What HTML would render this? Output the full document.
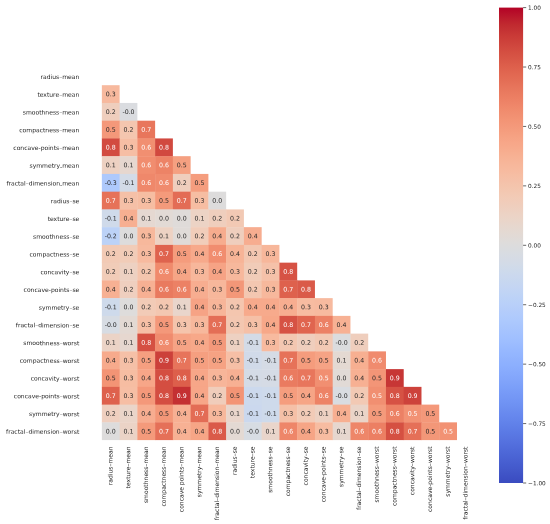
<!DOCTYPE html>
<html><head><meta charset="utf-8"><title>Correlation heatmap</title>
<style>html,body{margin:0;padding:0;background:#fff}svg{display:block}text{font-family:"DejaVu Sans","Liberation Sans",sans-serif;fill:#262626}.a{font-size:6.25px;text-anchor:middle}.w{fill:#fff}.y{font-size:6.04px;text-anchor:end}.x{font-size:6.04px;text-anchor:end}.c{font-size:5.75px}</style></head>
<body>
<svg width="550" height="524" viewBox="0 0 550 524">
<rect width="550" height="524" fill="#fff"/>
<defs><linearGradient id="cw" x1="0" y1="1" x2="0" y2="0"><stop offset="0.0020" stop-color="#3b4cc0"/><stop offset="0.0137" stop-color="#3e51c5"/><stop offset="0.0254" stop-color="#4257c9"/><stop offset="0.0371" stop-color="#455cce"/><stop offset="0.0488" stop-color="#4961d2"/><stop offset="0.0605" stop-color="#4c66d6"/><stop offset="0.0723" stop-color="#506bda"/><stop offset="0.0840" stop-color="#5470de"/><stop offset="0.0957" stop-color="#5875e1"/><stop offset="0.1074" stop-color="#5b7ae5"/><stop offset="0.1191" stop-color="#5f7fe8"/><stop offset="0.1309" stop-color="#6384eb"/><stop offset="0.1426" stop-color="#6788ee"/><stop offset="0.1543" stop-color="#6b8df0"/><stop offset="0.1660" stop-color="#6f92f3"/><stop offset="0.1777" stop-color="#7396f5"/><stop offset="0.1895" stop-color="#779af7"/><stop offset="0.2012" stop-color="#7b9ff9"/><stop offset="0.2129" stop-color="#80a3fa"/><stop offset="0.2246" stop-color="#84a7fc"/><stop offset="0.2363" stop-color="#88abfd"/><stop offset="0.2480" stop-color="#8caffe"/><stop offset="0.2598" stop-color="#90b2fe"/><stop offset="0.2715" stop-color="#94b6ff"/><stop offset="0.2832" stop-color="#98b9ff"/><stop offset="0.2949" stop-color="#9dbdff"/><stop offset="0.3066" stop-color="#a1c0ff"/><stop offset="0.3184" stop-color="#a5c3fe"/><stop offset="0.3301" stop-color="#a9c6fd"/><stop offset="0.3418" stop-color="#adc9fd"/><stop offset="0.3535" stop-color="#b1cbfc"/><stop offset="0.3652" stop-color="#b5cdfa"/><stop offset="0.3770" stop-color="#b9d0f9"/><stop offset="0.3887" stop-color="#bcd2f7"/><stop offset="0.4004" stop-color="#c0d4f5"/><stop offset="0.4121" stop-color="#c4d5f3"/><stop offset="0.4238" stop-color="#c7d7f0"/><stop offset="0.4355" stop-color="#cbd8ee"/><stop offset="0.4473" stop-color="#cedaeb"/><stop offset="0.4590" stop-color="#d2dbe8"/><stop offset="0.4707" stop-color="#d5dbe5"/><stop offset="0.4824" stop-color="#d8dce2"/><stop offset="0.4941" stop-color="#dbdcde"/><stop offset="0.5059" stop-color="#dedcdb"/><stop offset="0.5176" stop-color="#e1dad6"/><stop offset="0.5293" stop-color="#e4d9d2"/><stop offset="0.5410" stop-color="#e7d7ce"/><stop offset="0.5527" stop-color="#ead5c9"/><stop offset="0.5645" stop-color="#ecd3c5"/><stop offset="0.5762" stop-color="#eed0c0"/><stop offset="0.5879" stop-color="#f0cdbb"/><stop offset="0.5996" stop-color="#f2cbb7"/><stop offset="0.6113" stop-color="#f3c8b2"/><stop offset="0.6230" stop-color="#f4c5ad"/><stop offset="0.6348" stop-color="#f5c1a9"/><stop offset="0.6465" stop-color="#f6bea4"/><stop offset="0.6582" stop-color="#f7ba9f"/><stop offset="0.6699" stop-color="#f7b79b"/><stop offset="0.6816" stop-color="#f7b396"/><stop offset="0.6934" stop-color="#f7af91"/><stop offset="0.7051" stop-color="#f7aa8c"/><stop offset="0.7168" stop-color="#f7a688"/><stop offset="0.7285" stop-color="#f6a283"/><stop offset="0.7402" stop-color="#f59d7e"/><stop offset="0.7520" stop-color="#f4987a"/><stop offset="0.7637" stop-color="#f39475"/><stop offset="0.7754" stop-color="#f18f71"/><stop offset="0.7871" stop-color="#f08a6c"/><stop offset="0.7988" stop-color="#ee8468"/><stop offset="0.8105" stop-color="#ec7f63"/><stop offset="0.8223" stop-color="#e97a5f"/><stop offset="0.8340" stop-color="#e7745b"/><stop offset="0.8457" stop-color="#e46e56"/><stop offset="0.8574" stop-color="#e26952"/><stop offset="0.8691" stop-color="#df634e"/><stop offset="0.8809" stop-color="#dc5d4a"/><stop offset="0.8926" stop-color="#d85646"/><stop offset="0.9043" stop-color="#d55042"/><stop offset="0.9160" stop-color="#d1493f"/><stop offset="0.9277" stop-color="#cd423b"/><stop offset="0.9395" stop-color="#ca3b37"/><stop offset="0.9512" stop-color="#c53334"/><stop offset="0.9629" stop-color="#c12b30"/><stop offset="0.9746" stop-color="#bd1f2d"/><stop offset="0.9863" stop-color="#b8122a"/><stop offset="0.9980" stop-color="#b40426"/></linearGradient></defs>
<g>
<rect x="101.85" y="85.20" width="17.76" height="18.14" fill="#f7b99e"/>
<rect x="101.85" y="102.94" width="18.16" height="18.14" fill="#efcebd"/><rect x="119.61" y="102.94" width="17.76" height="18.14" fill="#dadce0"/>
<rect x="101.85" y="120.69" width="18.16" height="18.14" fill="#f4987a"/><rect x="119.61" y="120.69" width="18.16" height="18.14" fill="#f4c6af"/><rect x="137.36" y="120.69" width="17.76" height="18.14" fill="#e8765c"/>
<rect x="101.85" y="138.43" width="18.16" height="18.14" fill="#d24b40"/><rect x="119.61" y="138.43" width="18.16" height="18.14" fill="#f6bea4"/><rect x="137.36" y="138.43" width="18.16" height="18.14" fill="#f18f71"/><rect x="155.12" y="138.43" width="17.76" height="18.14" fill="#d1493f"/>
<rect x="101.85" y="156.18" width="18.16" height="18.14" fill="#edd1c2"/><rect x="119.61" y="156.18" width="18.16" height="18.14" fill="#e6d7cf"/><rect x="137.36" y="156.18" width="18.16" height="18.14" fill="#f18d6f"/><rect x="155.12" y="156.18" width="18.16" height="18.14" fill="#ed8366"/><rect x="172.88" y="156.18" width="17.76" height="18.14" fill="#f5a081"/>
<rect x="101.85" y="173.92" width="18.16" height="18.14" fill="#aec9fc"/><rect x="119.61" y="173.92" width="18.16" height="18.14" fill="#d3dbe7"/><rect x="137.36" y="173.92" width="18.16" height="18.14" fill="#ef886b"/><rect x="155.12" y="173.92" width="18.16" height="18.14" fill="#f08b6e"/><rect x="172.88" y="173.92" width="18.16" height="18.14" fill="#efcebd"/><rect x="190.63" y="173.92" width="17.76" height="18.14" fill="#f59d7e"/>
<rect x="101.85" y="191.67" width="18.16" height="18.14" fill="#e67259"/><rect x="119.61" y="191.67" width="18.16" height="18.14" fill="#f5c0a7"/><rect x="137.36" y="191.67" width="18.16" height="18.14" fill="#f6bda2"/><rect x="155.12" y="191.67" width="18.16" height="18.14" fill="#f49a7b"/><rect x="172.88" y="191.67" width="18.16" height="18.14" fill="#e36c55"/><rect x="190.63" y="191.67" width="18.16" height="18.14" fill="#f6bda2"/><rect x="208.39" y="191.67" width="17.76" height="18.14" fill="#dddcdc"/>
<rect x="101.85" y="209.41" width="18.16" height="18.14" fill="#cfdaea"/><rect x="119.61" y="209.41" width="18.16" height="18.14" fill="#f7af91"/><rect x="137.36" y="209.41" width="18.16" height="18.14" fill="#e5d8d1"/><rect x="155.12" y="209.41" width="18.16" height="18.14" fill="#e2dad5"/><rect x="172.88" y="209.41" width="18.16" height="18.14" fill="#dfdbd9"/><rect x="190.63" y="209.41" width="18.16" height="18.14" fill="#ecd3c5"/><rect x="208.39" y="209.41" width="18.16" height="18.14" fill="#efcebd"/><rect x="226.15" y="209.41" width="17.76" height="18.14" fill="#f2c9b4"/>
<rect x="101.85" y="227.16" width="18.16" height="18.14" fill="#bcd2f7"/><rect x="119.61" y="227.16" width="18.16" height="18.14" fill="#dddcdc"/><rect x="137.36" y="227.16" width="18.16" height="18.14" fill="#f7b89c"/><rect x="155.12" y="227.16" width="18.16" height="18.14" fill="#edd2c3"/><rect x="172.88" y="227.16" width="18.16" height="18.14" fill="#e0dbd8"/><rect x="190.63" y="227.16" width="18.16" height="18.14" fill="#f1cdba"/><rect x="208.39" y="227.16" width="18.16" height="18.14" fill="#f7ac8e"/><rect x="226.15" y="227.16" width="18.16" height="18.14" fill="#efcebd"/><rect x="243.91" y="227.16" width="17.76" height="18.14" fill="#f7ad90"/>
<rect x="101.85" y="244.90" width="18.16" height="18.14" fill="#f2cab5"/><rect x="119.61" y="244.90" width="18.16" height="18.14" fill="#f1ccb8"/><rect x="137.36" y="244.90" width="18.16" height="18.14" fill="#f7ba9f"/><rect x="155.12" y="244.90" width="18.16" height="18.14" fill="#df634e"/><rect x="172.88" y="244.90" width="18.16" height="18.14" fill="#f59c7d"/><rect x="190.63" y="244.90" width="18.16" height="18.14" fill="#f7a98b"/><rect x="208.39" y="244.90" width="18.16" height="18.14" fill="#f18d6f"/><rect x="226.15" y="244.90" width="18.16" height="18.14" fill="#f7b497"/><rect x="243.91" y="244.90" width="18.16" height="18.14" fill="#f3c7b1"/><rect x="261.66" y="244.90" width="17.76" height="18.14" fill="#f7b79b"/>
<rect x="101.85" y="262.65" width="18.16" height="18.14" fill="#f1ccb8"/><rect x="119.61" y="262.65" width="18.16" height="18.14" fill="#edd1c2"/><rect x="137.36" y="262.65" width="18.16" height="18.14" fill="#f4c5ad"/><rect x="155.12" y="262.65" width="18.16" height="18.14" fill="#f08a6c"/><rect x="172.88" y="262.65" width="18.16" height="18.14" fill="#f6a586"/><rect x="190.63" y="262.65" width="18.16" height="18.14" fill="#f7b79b"/><rect x="208.39" y="262.65" width="18.16" height="18.14" fill="#f6a385"/><rect x="226.15" y="262.65" width="18.16" height="18.14" fill="#f7b89c"/><rect x="243.91" y="262.65" width="18.16" height="18.14" fill="#f1ccb8"/><rect x="261.66" y="262.65" width="18.16" height="18.14" fill="#f5c1a9"/><rect x="279.42" y="262.65" width="17.76" height="18.14" fill="#d65244"/>
<rect x="101.85" y="280.39" width="18.16" height="18.14" fill="#f7b093"/><rect x="119.61" y="280.39" width="18.16" height="18.14" fill="#efcfbf"/><rect x="137.36" y="280.39" width="18.16" height="18.14" fill="#f7b093"/><rect x="155.12" y="280.39" width="18.16" height="18.14" fill="#e97a5f"/><rect x="172.88" y="280.39" width="18.16" height="18.14" fill="#ec8165"/><rect x="190.63" y="280.39" width="18.16" height="18.14" fill="#f7ad90"/><rect x="208.39" y="280.39" width="18.16" height="18.14" fill="#f7b79b"/><rect x="226.15" y="280.39" width="18.16" height="18.14" fill="#f39778"/><rect x="243.91" y="280.39" width="18.16" height="18.14" fill="#f3c7b1"/><rect x="261.66" y="280.39" width="18.16" height="18.14" fill="#f7b89c"/><rect x="279.42" y="280.39" width="18.16" height="18.14" fill="#de614d"/><rect x="297.18" y="280.39" width="17.76" height="18.14" fill="#da5a49"/>
<rect x="101.85" y="298.13" width="18.16" height="18.14" fill="#cedaeb"/><rect x="119.61" y="298.13" width="18.16" height="18.14" fill="#dedcdb"/><rect x="137.36" y="298.13" width="18.16" height="18.14" fill="#f2cbb7"/><rect x="155.12" y="298.13" width="18.16" height="18.14" fill="#f3c7b1"/><rect x="172.88" y="298.13" width="18.16" height="18.14" fill="#e9d5cb"/><rect x="190.63" y="298.13" width="18.16" height="18.14" fill="#f6a385"/><rect x="208.39" y="298.13" width="18.16" height="18.14" fill="#f7b599"/><rect x="226.15" y="298.13" width="18.16" height="18.14" fill="#f4c6af"/><rect x="243.91" y="298.13" width="18.16" height="18.14" fill="#f7aa8c"/><rect x="261.66" y="298.13" width="18.16" height="18.14" fill="#f7aa8c"/><rect x="279.42" y="298.13" width="18.16" height="18.14" fill="#f7ad90"/><rect x="297.18" y="298.13" width="18.16" height="18.14" fill="#f7bca1"/><rect x="314.93" y="298.13" width="17.76" height="18.14" fill="#f7ba9f"/>
<rect x="101.85" y="315.88" width="18.16" height="18.14" fill="#d7dce3"/><rect x="119.61" y="315.88" width="18.16" height="18.14" fill="#e3d9d3"/><rect x="137.36" y="315.88" width="18.16" height="18.14" fill="#f6bfa6"/><rect x="155.12" y="315.88" width="18.16" height="18.14" fill="#f4987a"/><rect x="172.88" y="315.88" width="18.16" height="18.14" fill="#f5c4ac"/><rect x="190.63" y="315.88" width="18.16" height="18.14" fill="#f7b89c"/><rect x="208.39" y="315.88" width="18.16" height="18.14" fill="#e46e56"/><rect x="226.15" y="315.88" width="18.16" height="18.14" fill="#f3c7b1"/><rect x="243.91" y="315.88" width="18.16" height="18.14" fill="#f5c0a7"/><rect x="261.66" y="315.88" width="18.16" height="18.14" fill="#f7a889"/><rect x="279.42" y="315.88" width="18.16" height="18.14" fill="#d65244"/><rect x="297.18" y="315.88" width="18.16" height="18.14" fill="#e0654f"/><rect x="314.93" y="315.88" width="18.16" height="18.14" fill="#ec8165"/><rect x="332.69" y="315.88" width="17.76" height="18.14" fill="#f7b194"/>
<rect x="101.85" y="333.62" width="18.16" height="18.14" fill="#ebd3c6"/><rect x="119.61" y="333.62" width="18.16" height="18.14" fill="#e6d7cf"/><rect x="137.36" y="333.62" width="18.16" height="18.14" fill="#d55042"/><rect x="155.12" y="333.62" width="18.16" height="18.14" fill="#f08b6e"/><rect x="172.88" y="333.62" width="18.16" height="18.14" fill="#f6a385"/><rect x="190.63" y="333.62" width="18.16" height="18.14" fill="#f7a889"/><rect x="208.39" y="333.62" width="18.16" height="18.14" fill="#f4987a"/><rect x="226.15" y="333.62" width="18.16" height="18.14" fill="#edd1c2"/><rect x="243.91" y="333.62" width="18.16" height="18.14" fill="#d3dbe7"/><rect x="261.66" y="333.62" width="18.16" height="18.14" fill="#f7ba9f"/><rect x="279.42" y="333.62" width="18.16" height="18.14" fill="#f3c7b1"/><rect x="297.18" y="333.62" width="18.16" height="18.14" fill="#efcebd"/><rect x="314.93" y="333.62" width="18.16" height="18.14" fill="#f2c9b4"/><rect x="332.69" y="333.62" width="18.16" height="18.14" fill="#dbdcde"/><rect x="350.45" y="333.62" width="17.76" height="18.14" fill="#efcebd"/>
<rect x="101.85" y="351.37" width="18.16" height="18.14" fill="#f7aa8c"/><rect x="119.61" y="351.37" width="18.16" height="18.14" fill="#f5c0a7"/><rect x="137.36" y="351.37" width="18.16" height="18.14" fill="#f59f80"/><rect x="155.12" y="351.37" width="18.16" height="18.14" fill="#cc403a"/><rect x="172.88" y="351.37" width="18.16" height="18.14" fill="#e7745b"/><rect x="190.63" y="351.37" width="18.16" height="18.14" fill="#f59f80"/><rect x="208.39" y="351.37" width="18.16" height="18.14" fill="#f6a283"/><rect x="226.15" y="351.37" width="18.16" height="18.14" fill="#f6bfa6"/><rect x="243.91" y="351.37" width="18.16" height="18.14" fill="#d1dae9"/><rect x="261.66" y="351.37" width="18.16" height="18.14" fill="#d5dbe5"/><rect x="279.42" y="351.37" width="18.16" height="18.14" fill="#e67259"/><rect x="297.18" y="351.37" width="18.16" height="18.14" fill="#f59c7d"/><rect x="314.93" y="351.37" width="18.16" height="18.14" fill="#f6a385"/><rect x="332.69" y="351.37" width="18.16" height="18.14" fill="#e4d9d2"/><rect x="350.45" y="351.37" width="18.16" height="18.14" fill="#f7af91"/><rect x="368.21" y="351.37" width="17.76" height="18.14" fill="#f08b6e"/>
<rect x="101.85" y="369.12" width="18.16" height="18.14" fill="#f39475"/><rect x="119.61" y="369.12" width="18.16" height="18.14" fill="#f6bda2"/><rect x="137.36" y="369.12" width="18.16" height="18.14" fill="#f7a688"/><rect x="155.12" y="369.12" width="18.16" height="18.14" fill="#d44e41"/><rect x="172.88" y="369.12" width="18.16" height="18.14" fill="#dd5f4b"/><rect x="190.63" y="369.12" width="18.16" height="18.14" fill="#f7a688"/><rect x="208.39" y="369.12" width="18.16" height="18.14" fill="#f7b599"/><rect x="226.15" y="369.12" width="18.16" height="18.14" fill="#f7b093"/><rect x="243.91" y="369.12" width="18.16" height="18.14" fill="#d4dbe6"/><rect x="261.66" y="369.12" width="18.16" height="18.14" fill="#d5dbe5"/><rect x="279.42" y="369.12" width="18.16" height="18.14" fill="#ea7b60"/><rect x="297.18" y="369.12" width="18.16" height="18.14" fill="#e8765c"/><rect x="314.93" y="369.12" width="18.16" height="18.14" fill="#f18f71"/><rect x="332.69" y="369.12" width="18.16" height="18.14" fill="#e1dad6"/><rect x="350.45" y="369.12" width="18.16" height="18.14" fill="#f7b093"/><rect x="368.21" y="369.12" width="18.16" height="18.14" fill="#f39577"/><rect x="385.96" y="369.12" width="17.76" height="18.14" fill="#c73635"/>
<rect x="101.85" y="386.86" width="18.16" height="18.14" fill="#de614d"/><rect x="119.61" y="386.86" width="18.16" height="18.14" fill="#f6bea4"/><rect x="137.36" y="386.86" width="18.16" height="18.14" fill="#f4987a"/><rect x="155.12" y="386.86" width="18.16" height="18.14" fill="#d44e41"/><rect x="172.88" y="386.86" width="18.16" height="18.14" fill="#c43032"/><rect x="190.63" y="386.86" width="18.16" height="18.14" fill="#f7a688"/><rect x="208.39" y="386.86" width="18.16" height="18.14" fill="#f0cdbb"/><rect x="226.15" y="386.86" width="18.16" height="18.14" fill="#f39475"/><rect x="243.91" y="386.86" width="18.16" height="18.14" fill="#ccd9ed"/><rect x="261.66" y="386.86" width="18.16" height="18.14" fill="#cedaeb"/><rect x="279.42" y="386.86" width="18.16" height="18.14" fill="#f59d7e"/><rect x="297.18" y="386.86" width="18.16" height="18.14" fill="#f6a586"/><rect x="314.93" y="386.86" width="18.16" height="18.14" fill="#ed8366"/><rect x="332.69" y="386.86" width="18.16" height="18.14" fill="#d9dce1"/><rect x="350.45" y="386.86" width="18.16" height="18.14" fill="#f2c9b4"/><rect x="368.21" y="386.86" width="18.16" height="18.14" fill="#f18f71"/><rect x="385.96" y="386.86" width="18.16" height="18.14" fill="#d65244"/><rect x="403.72" y="386.86" width="17.76" height="18.14" fill="#cd423b"/>
<rect x="101.85" y="404.61" width="18.16" height="18.14" fill="#efcfbf"/><rect x="119.61" y="404.61" width="18.16" height="18.14" fill="#ead5c9"/><rect x="137.36" y="404.61" width="18.16" height="18.14" fill="#f7ad90"/><rect x="155.12" y="404.61" width="18.16" height="18.14" fill="#f39778"/><rect x="172.88" y="404.61" width="18.16" height="18.14" fill="#f7b093"/><rect x="190.63" y="404.61" width="18.16" height="18.14" fill="#e36c55"/><rect x="208.39" y="404.61" width="18.16" height="18.14" fill="#f7b89c"/><rect x="226.15" y="404.61" width="18.16" height="18.14" fill="#e9d5cb"/><rect x="243.91" y="404.61" width="18.16" height="18.14" fill="#cbd8ee"/><rect x="261.66" y="404.61" width="18.16" height="18.14" fill="#cedaeb"/><rect x="279.42" y="404.61" width="18.16" height="18.14" fill="#f5c0a7"/><rect x="297.18" y="404.61" width="18.16" height="18.14" fill="#f2cbb7"/><rect x="314.93" y="404.61" width="18.16" height="18.14" fill="#edd1c2"/><rect x="332.69" y="404.61" width="18.16" height="18.14" fill="#f7af91"/><rect x="350.45" y="404.61" width="18.16" height="18.14" fill="#ead4c8"/><rect x="368.21" y="404.61" width="18.16" height="18.14" fill="#f49a7b"/><rect x="385.96" y="404.61" width="18.16" height="18.14" fill="#ec8165"/><rect x="403.72" y="404.61" width="18.16" height="18.14" fill="#f29274"/><rect x="421.48" y="404.61" width="17.76" height="18.14" fill="#f4987a"/>
<rect x="101.85" y="422.35" width="18.16" height="17.75" fill="#dddcdc"/><rect x="119.61" y="422.35" width="18.16" height="17.75" fill="#ebd3c6"/><rect x="137.36" y="422.35" width="18.16" height="17.75" fill="#f49a7b"/><rect x="155.12" y="422.35" width="18.16" height="17.75" fill="#e57058"/><rect x="172.88" y="422.35" width="18.16" height="17.75" fill="#f7b194"/><rect x="190.63" y="422.35" width="18.16" height="17.75" fill="#f6a586"/><rect x="208.39" y="422.35" width="18.16" height="17.75" fill="#da5a49"/><rect x="226.15" y="422.35" width="18.16" height="17.75" fill="#e3d9d3"/><rect x="243.91" y="422.35" width="18.16" height="17.75" fill="#d7dce3"/><rect x="261.66" y="422.35" width="18.16" height="17.75" fill="#e9d5cb"/><rect x="279.42" y="422.35" width="18.16" height="17.75" fill="#ee8669"/><rect x="297.18" y="422.35" width="18.16" height="17.75" fill="#f6a586"/><rect x="314.93" y="422.35" width="18.16" height="17.75" fill="#f7bca1"/><rect x="332.69" y="422.35" width="18.16" height="17.75" fill="#e6d7cf"/><rect x="350.45" y="422.35" width="18.16" height="17.75" fill="#ee8669"/><rect x="368.21" y="422.35" width="18.16" height="17.75" fill="#ec7f63"/><rect x="385.96" y="422.35" width="18.16" height="17.75" fill="#d55042"/><rect x="403.72" y="422.35" width="18.16" height="17.75" fill="#e57058"/><rect x="421.48" y="422.35" width="18.16" height="17.75" fill="#f39778"/><rect x="439.23" y="422.35" width="17.76" height="17.75" fill="#f29274"/>
</g>
<g>
<text class="a" transform="translate(110.73 96.35) rotate(.05)">0.3</text>
<text class="a" transform="translate(110.73 114.09) rotate(.05)">0.2</text><text class="a" transform="translate(128.49 114.09) rotate(.05)">-0.0</text>
<text class="a" transform="translate(110.73 131.84) rotate(.05)">0.5</text><text class="a" transform="translate(128.49 131.84) rotate(.05)">0.2</text><text class="a w" transform="translate(146.24 131.84) rotate(.05)">0.7</text>
<text class="a w" transform="translate(110.73 149.58) rotate(.05)">0.8</text><text class="a" transform="translate(128.49 149.58) rotate(.05)">0.3</text><text class="a w" transform="translate(146.24 149.58) rotate(.05)">0.6</text><text class="a w" transform="translate(164.00 149.58) rotate(.05)">0.8</text>
<text class="a" transform="translate(110.73 167.33) rotate(.05)">0.1</text><text class="a" transform="translate(128.49 167.33) rotate(.05)">0.1</text><text class="a w" transform="translate(146.24 167.33) rotate(.05)">0.6</text><text class="a w" transform="translate(164.00 167.33) rotate(.05)">0.6</text><text class="a" transform="translate(181.76 167.33) rotate(.05)">0.5</text>
<text class="a" transform="translate(110.73 185.07) rotate(.05)">-0.3</text><text class="a" transform="translate(128.49 185.07) rotate(.05)">-0.1</text><text class="a w" transform="translate(146.24 185.07) rotate(.05)">0.6</text><text class="a w" transform="translate(164.00 185.07) rotate(.05)">0.6</text><text class="a" transform="translate(181.76 185.07) rotate(.05)">0.2</text><text class="a" transform="translate(199.51 185.07) rotate(.05)">0.5</text>
<text class="a w" transform="translate(110.73 202.82) rotate(.05)">0.7</text><text class="a" transform="translate(128.49 202.82) rotate(.05)">0.3</text><text class="a" transform="translate(146.24 202.82) rotate(.05)">0.3</text><text class="a" transform="translate(164.00 202.82) rotate(.05)">0.5</text><text class="a w" transform="translate(181.76 202.82) rotate(.05)">0.7</text><text class="a" transform="translate(199.51 202.82) rotate(.05)">0.3</text><text class="a" transform="translate(217.27 202.82) rotate(.05)">0.0</text>
<text class="a" transform="translate(110.73 220.56) rotate(.05)">-0.1</text><text class="a" transform="translate(128.49 220.56) rotate(.05)">0.4</text><text class="a" transform="translate(146.24 220.56) rotate(.05)">0.1</text><text class="a" transform="translate(164.00 220.56) rotate(.05)">0.0</text><text class="a" transform="translate(181.76 220.56) rotate(.05)">0.0</text><text class="a" transform="translate(199.51 220.56) rotate(.05)">0.1</text><text class="a" transform="translate(217.27 220.56) rotate(.05)">0.2</text><text class="a" transform="translate(235.03 220.56) rotate(.05)">0.2</text>
<text class="a" transform="translate(110.73 238.31) rotate(.05)">-0.2</text><text class="a" transform="translate(128.49 238.31) rotate(.05)">0.0</text><text class="a" transform="translate(146.24 238.31) rotate(.05)">0.3</text><text class="a" transform="translate(164.00 238.31) rotate(.05)">0.1</text><text class="a" transform="translate(181.76 238.31) rotate(.05)">0.0</text><text class="a" transform="translate(199.51 238.31) rotate(.05)">0.2</text><text class="a" transform="translate(217.27 238.31) rotate(.05)">0.4</text><text class="a" transform="translate(235.03 238.31) rotate(.05)">0.2</text><text class="a" transform="translate(252.78 238.31) rotate(.05)">0.4</text>
<text class="a" transform="translate(110.73 256.05) rotate(.05)">0.2</text><text class="a" transform="translate(128.49 256.05) rotate(.05)">0.2</text><text class="a" transform="translate(146.24 256.05) rotate(.05)">0.3</text><text class="a w" transform="translate(164.00 256.05) rotate(.05)">0.7</text><text class="a" transform="translate(181.76 256.05) rotate(.05)">0.5</text><text class="a" transform="translate(199.51 256.05) rotate(.05)">0.4</text><text class="a w" transform="translate(217.27 256.05) rotate(.05)">0.6</text><text class="a" transform="translate(235.03 256.05) rotate(.05)">0.4</text><text class="a" transform="translate(252.78 256.05) rotate(.05)">0.2</text><text class="a" transform="translate(270.54 256.05) rotate(.05)">0.3</text>
<text class="a" transform="translate(110.73 273.80) rotate(.05)">0.2</text><text class="a" transform="translate(128.49 273.80) rotate(.05)">0.1</text><text class="a" transform="translate(146.24 273.80) rotate(.05)">0.2</text><text class="a w" transform="translate(164.00 273.80) rotate(.05)">0.6</text><text class="a" transform="translate(181.76 273.80) rotate(.05)">0.4</text><text class="a" transform="translate(199.51 273.80) rotate(.05)">0.3</text><text class="a" transform="translate(217.27 273.80) rotate(.05)">0.4</text><text class="a" transform="translate(235.03 273.80) rotate(.05)">0.3</text><text class="a" transform="translate(252.78 273.80) rotate(.05)">0.2</text><text class="a" transform="translate(270.54 273.80) rotate(.05)">0.3</text><text class="a w" transform="translate(288.30 273.80) rotate(.05)">0.8</text>
<text class="a" transform="translate(110.73 291.54) rotate(.05)">0.4</text><text class="a" transform="translate(128.49 291.54) rotate(.05)">0.2</text><text class="a" transform="translate(146.24 291.54) rotate(.05)">0.4</text><text class="a w" transform="translate(164.00 291.54) rotate(.05)">0.6</text><text class="a w" transform="translate(181.76 291.54) rotate(.05)">0.6</text><text class="a" transform="translate(199.51 291.54) rotate(.05)">0.4</text><text class="a" transform="translate(217.27 291.54) rotate(.05)">0.3</text><text class="a" transform="translate(235.03 291.54) rotate(.05)">0.5</text><text class="a" transform="translate(252.78 291.54) rotate(.05)">0.2</text><text class="a" transform="translate(270.54 291.54) rotate(.05)">0.3</text><text class="a w" transform="translate(288.30 291.54) rotate(.05)">0.7</text><text class="a w" transform="translate(306.06 291.54) rotate(.05)">0.8</text>
<text class="a" transform="translate(110.73 309.29) rotate(.05)">-0.1</text><text class="a" transform="translate(128.49 309.29) rotate(.05)">0.0</text><text class="a" transform="translate(146.24 309.29) rotate(.05)">0.2</text><text class="a" transform="translate(164.00 309.29) rotate(.05)">0.2</text><text class="a" transform="translate(181.76 309.29) rotate(.05)">0.1</text><text class="a" transform="translate(199.51 309.29) rotate(.05)">0.4</text><text class="a" transform="translate(217.27 309.29) rotate(.05)">0.3</text><text class="a" transform="translate(235.03 309.29) rotate(.05)">0.2</text><text class="a" transform="translate(252.78 309.29) rotate(.05)">0.4</text><text class="a" transform="translate(270.54 309.29) rotate(.05)">0.4</text><text class="a" transform="translate(288.30 309.29) rotate(.05)">0.4</text><text class="a" transform="translate(306.06 309.29) rotate(.05)">0.3</text><text class="a" transform="translate(323.81 309.29) rotate(.05)">0.3</text>
<text class="a" transform="translate(110.73 327.03) rotate(.05)">-0.0</text><text class="a" transform="translate(128.49 327.03) rotate(.05)">0.1</text><text class="a" transform="translate(146.24 327.03) rotate(.05)">0.3</text><text class="a" transform="translate(164.00 327.03) rotate(.05)">0.5</text><text class="a" transform="translate(181.76 327.03) rotate(.05)">0.3</text><text class="a" transform="translate(199.51 327.03) rotate(.05)">0.3</text><text class="a w" transform="translate(217.27 327.03) rotate(.05)">0.7</text><text class="a" transform="translate(235.03 327.03) rotate(.05)">0.2</text><text class="a" transform="translate(252.78 327.03) rotate(.05)">0.3</text><text class="a" transform="translate(270.54 327.03) rotate(.05)">0.4</text><text class="a w" transform="translate(288.30 327.03) rotate(.05)">0.8</text><text class="a w" transform="translate(306.06 327.03) rotate(.05)">0.7</text><text class="a w" transform="translate(323.81 327.03) rotate(.05)">0.6</text><text class="a" transform="translate(341.57 327.03) rotate(.05)">0.4</text>
<text class="a" transform="translate(110.73 344.78) rotate(.05)">0.1</text><text class="a" transform="translate(128.49 344.78) rotate(.05)">0.1</text><text class="a w" transform="translate(146.24 344.78) rotate(.05)">0.8</text><text class="a w" transform="translate(164.00 344.78) rotate(.05)">0.6</text><text class="a" transform="translate(181.76 344.78) rotate(.05)">0.5</text><text class="a" transform="translate(199.51 344.78) rotate(.05)">0.4</text><text class="a" transform="translate(217.27 344.78) rotate(.05)">0.5</text><text class="a" transform="translate(235.03 344.78) rotate(.05)">0.1</text><text class="a" transform="translate(252.78 344.78) rotate(.05)">-0.1</text><text class="a" transform="translate(270.54 344.78) rotate(.05)">0.3</text><text class="a" transform="translate(288.30 344.78) rotate(.05)">0.2</text><text class="a" transform="translate(306.06 344.78) rotate(.05)">0.2</text><text class="a" transform="translate(323.81 344.78) rotate(.05)">0.2</text><text class="a" transform="translate(341.57 344.78) rotate(.05)">-0.0</text><text class="a" transform="translate(359.33 344.78) rotate(.05)">0.2</text>
<text class="a" transform="translate(110.73 362.52) rotate(.05)">0.4</text><text class="a" transform="translate(128.49 362.52) rotate(.05)">0.3</text><text class="a" transform="translate(146.24 362.52) rotate(.05)">0.5</text><text class="a w" transform="translate(164.00 362.52) rotate(.05)">0.9</text><text class="a w" transform="translate(181.76 362.52) rotate(.05)">0.7</text><text class="a" transform="translate(199.51 362.52) rotate(.05)">0.5</text><text class="a" transform="translate(217.27 362.52) rotate(.05)">0.5</text><text class="a" transform="translate(235.03 362.52) rotate(.05)">0.3</text><text class="a" transform="translate(252.78 362.52) rotate(.05)">-0.1</text><text class="a" transform="translate(270.54 362.52) rotate(.05)">-0.1</text><text class="a w" transform="translate(288.30 362.52) rotate(.05)">0.7</text><text class="a" transform="translate(306.06 362.52) rotate(.05)">0.5</text><text class="a" transform="translate(323.81 362.52) rotate(.05)">0.5</text><text class="a" transform="translate(341.57 362.52) rotate(.05)">0.1</text><text class="a" transform="translate(359.33 362.52) rotate(.05)">0.4</text><text class="a w" transform="translate(377.08 362.52) rotate(.05)">0.6</text>
<text class="a" transform="translate(110.73 380.27) rotate(.05)">0.5</text><text class="a" transform="translate(128.49 380.27) rotate(.05)">0.3</text><text class="a" transform="translate(146.24 380.27) rotate(.05)">0.4</text><text class="a w" transform="translate(164.00 380.27) rotate(.05)">0.8</text><text class="a w" transform="translate(181.76 380.27) rotate(.05)">0.8</text><text class="a" transform="translate(199.51 380.27) rotate(.05)">0.4</text><text class="a" transform="translate(217.27 380.27) rotate(.05)">0.3</text><text class="a" transform="translate(235.03 380.27) rotate(.05)">0.4</text><text class="a" transform="translate(252.78 380.27) rotate(.05)">-0.1</text><text class="a" transform="translate(270.54 380.27) rotate(.05)">-0.1</text><text class="a w" transform="translate(288.30 380.27) rotate(.05)">0.6</text><text class="a w" transform="translate(306.06 380.27) rotate(.05)">0.7</text><text class="a w" transform="translate(323.81 380.27) rotate(.05)">0.5</text><text class="a" transform="translate(341.57 380.27) rotate(.05)">0.0</text><text class="a" transform="translate(359.33 380.27) rotate(.05)">0.4</text><text class="a" transform="translate(377.08 380.27) rotate(.05)">0.5</text><text class="a w" transform="translate(394.84 380.27) rotate(.05)">0.9</text>
<text class="a w" transform="translate(110.73 398.01) rotate(.05)">0.7</text><text class="a" transform="translate(128.49 398.01) rotate(.05)">0.3</text><text class="a" transform="translate(146.24 398.01) rotate(.05)">0.5</text><text class="a w" transform="translate(164.00 398.01) rotate(.05)">0.8</text><text class="a w" transform="translate(181.76 398.01) rotate(.05)">0.9</text><text class="a" transform="translate(199.51 398.01) rotate(.05)">0.4</text><text class="a" transform="translate(217.27 398.01) rotate(.05)">0.2</text><text class="a" transform="translate(235.03 398.01) rotate(.05)">0.5</text><text class="a" transform="translate(252.78 398.01) rotate(.05)">-0.1</text><text class="a" transform="translate(270.54 398.01) rotate(.05)">-0.1</text><text class="a" transform="translate(288.30 398.01) rotate(.05)">0.5</text><text class="a" transform="translate(306.06 398.01) rotate(.05)">0.4</text><text class="a w" transform="translate(323.81 398.01) rotate(.05)">0.6</text><text class="a" transform="translate(341.57 398.01) rotate(.05)">-0.0</text><text class="a" transform="translate(359.33 398.01) rotate(.05)">0.2</text><text class="a w" transform="translate(377.08 398.01) rotate(.05)">0.5</text><text class="a w" transform="translate(394.84 398.01) rotate(.05)">0.8</text><text class="a w" transform="translate(412.60 398.01) rotate(.05)">0.9</text>
<text class="a" transform="translate(110.73 415.76) rotate(.05)">0.2</text><text class="a" transform="translate(128.49 415.76) rotate(.05)">0.1</text><text class="a" transform="translate(146.24 415.76) rotate(.05)">0.4</text><text class="a" transform="translate(164.00 415.76) rotate(.05)">0.5</text><text class="a" transform="translate(181.76 415.76) rotate(.05)">0.4</text><text class="a w" transform="translate(199.51 415.76) rotate(.05)">0.7</text><text class="a" transform="translate(217.27 415.76) rotate(.05)">0.3</text><text class="a" transform="translate(235.03 415.76) rotate(.05)">0.1</text><text class="a" transform="translate(252.78 415.76) rotate(.05)">-0.1</text><text class="a" transform="translate(270.54 415.76) rotate(.05)">-0.1</text><text class="a" transform="translate(288.30 415.76) rotate(.05)">0.3</text><text class="a" transform="translate(306.06 415.76) rotate(.05)">0.2</text><text class="a" transform="translate(323.81 415.76) rotate(.05)">0.1</text><text class="a" transform="translate(341.57 415.76) rotate(.05)">0.4</text><text class="a" transform="translate(359.33 415.76) rotate(.05)">0.1</text><text class="a" transform="translate(377.08 415.76) rotate(.05)">0.5</text><text class="a w" transform="translate(394.84 415.76) rotate(.05)">0.6</text><text class="a w" transform="translate(412.60 415.76) rotate(.05)">0.5</text><text class="a" transform="translate(430.35 415.76) rotate(.05)">0.5</text>
<text class="a" transform="translate(110.73 433.50) rotate(.05)">0.0</text><text class="a" transform="translate(128.49 433.50) rotate(.05)">0.1</text><text class="a" transform="translate(146.24 433.50) rotate(.05)">0.5</text><text class="a w" transform="translate(164.00 433.50) rotate(.05)">0.7</text><text class="a" transform="translate(181.76 433.50) rotate(.05)">0.4</text><text class="a" transform="translate(199.51 433.50) rotate(.05)">0.4</text><text class="a w" transform="translate(217.27 433.50) rotate(.05)">0.8</text><text class="a" transform="translate(235.03 433.50) rotate(.05)">0.0</text><text class="a" transform="translate(252.78 433.50) rotate(.05)">-0.0</text><text class="a" transform="translate(270.54 433.50) rotate(.05)">0.1</text><text class="a w" transform="translate(288.30 433.50) rotate(.05)">0.6</text><text class="a" transform="translate(306.06 433.50) rotate(.05)">0.4</text><text class="a" transform="translate(323.81 433.50) rotate(.05)">0.3</text><text class="a" transform="translate(341.57 433.50) rotate(.05)">0.1</text><text class="a w" transform="translate(359.33 433.50) rotate(.05)">0.6</text><text class="a w" transform="translate(377.08 433.50) rotate(.05)">0.6</text><text class="a w" transform="translate(394.84 433.50) rotate(.05)">0.8</text><text class="a w" transform="translate(412.60 433.50) rotate(.05)">0.7</text><text class="a" transform="translate(430.35 433.50) rotate(.05)">0.5</text><text class="a w" transform="translate(448.11 433.50) rotate(.05)">0.5</text>
</g>
<g>
<text class="y" transform="translate(79.30 78.98) rotate(.05)">radius–mean</text>
<text class="y" transform="translate(79.30 96.73) rotate(.05)">texture–mean</text>
<text class="y" transform="translate(79.30 114.47) rotate(.05)">smoothness–mean</text>
<text class="y" transform="translate(79.30 132.22) rotate(.05)">compactness–mean</text>
<text class="y" transform="translate(79.30 149.96) rotate(.05)">concave-points–mean</text>
<text class="y" transform="translate(79.30 167.71) rotate(.05)">symmetry<tspan dy="1.7">-</tspan><tspan dy="-1.7">mean</tspan></text>
<text class="y" transform="translate(79.30 185.45) rotate(.05)">fractal–dimension<tspan dy="1.7">-</tspan><tspan dy="-1.7">mean</tspan></text>
<text class="y" transform="translate(79.30 203.20) rotate(.05)">radius–se</text>
<text class="y" transform="translate(79.30 220.94) rotate(.05)">texture–se</text>
<text class="y" transform="translate(79.30 238.69) rotate(.05)">smoothness–se</text>
<text class="y" transform="translate(79.30 256.43) rotate(.05)">compactness–se</text>
<text class="y" transform="translate(79.30 274.18) rotate(.05)">concavity–se</text>
<text class="y" transform="translate(79.30 291.92) rotate(.05)">concave-points–se</text>
<text class="y" transform="translate(79.30 309.67) rotate(.05)">symmetry–se</text>
<text class="y" transform="translate(79.30 327.41) rotate(.05)">fractal–dimension–se</text>
<text class="y" transform="translate(79.30 345.16) rotate(.05)">smoothness–worst</text>
<text class="y" transform="translate(79.30 362.90) rotate(.05)">compactness–worst</text>
<text class="y" transform="translate(79.30 380.65) rotate(.05)">concavity–worst</text>
<text class="y" transform="translate(79.30 398.39) rotate(.05)">concave-points–worst</text>
<text class="y" transform="translate(79.30 416.14) rotate(.05)">symmetry–worst</text>
<text class="y" transform="translate(79.30 433.88) rotate(.05)">fractal–dimension–worst</text>
</g>
<g>
<text class="x" transform="translate(112.48 446.50) rotate(-89.95)">radius–mean</text>
<text class="x" transform="translate(130.24 446.50) rotate(-89.95)">texture–mean</text>
<text class="x" transform="translate(147.99 446.50) rotate(-89.95)">smoothness–mean</text>
<text class="x" transform="translate(165.75 446.50) rotate(-89.95)">compactness–mean</text>
<text class="x" transform="translate(183.51 446.50) rotate(-89.95)">concave points–mean</text>
<text class="x" transform="translate(201.27 446.50) rotate(-89.95)">symmetry–mean</text>
<text class="x" transform="translate(219.02 446.50) rotate(-89.95)">fractal–dimension–mean</text>
<text class="x" transform="translate(236.78 446.50) rotate(-89.95)">radius–se</text>
<text class="x" transform="translate(254.54 446.50) rotate(-89.95)">texture–se</text>
<text class="x" transform="translate(272.29 446.50) rotate(-89.95)">smoothness–se</text>
<text class="x" transform="translate(290.05 446.50) rotate(-89.95)">compactness–se</text>
<text class="x" transform="translate(307.81 446.50) rotate(-89.95)">concavity–se</text>
<text class="x" transform="translate(325.56 446.50) rotate(-89.95)">concave-points–se</text>
<text class="x" transform="translate(343.32 446.50) rotate(-89.95)">symmetry–se</text>
<text class="x" transform="translate(361.08 446.50) rotate(-89.95)">fractal–dimension–se</text>
<text class="x" transform="translate(378.84 446.50) rotate(-89.95)">smoothness–worst</text>
<text class="x" transform="translate(396.59 446.50) rotate(-89.95)">compactness–worst</text>
<text class="x" transform="translate(414.35 446.50) rotate(-89.95)">concavity–worst</text>
<text class="x" transform="translate(432.11 446.50) rotate(-89.95)">concave-points–worst</text>
<text class="x" transform="translate(449.86 446.50) rotate(-89.95)">symmetry–worst</text>
<text class="x" transform="translate(467.62 446.50) rotate(-89.95)">fractal–dimension–worst</text>
</g>
<rect x="499.00" y="7.60" width="24.10" height="475.40" fill="url(#cw)"/>
<g>
<line x1="523.10" x2="526.20" y1="7.60" y2="7.60" stroke="#262626" stroke-width="0.7"/><text class="c" transform="translate(528.10 9.79) rotate(.05)">1.00</text>
<line x1="523.10" x2="526.20" y1="67.02" y2="67.02" stroke="#262626" stroke-width="0.7"/><text class="c" transform="translate(528.10 69.21) rotate(.05)">0.75</text>
<line x1="523.10" x2="526.20" y1="126.45" y2="126.45" stroke="#262626" stroke-width="0.7"/><text class="c" transform="translate(528.10 128.63) rotate(.05)">0.50</text>
<line x1="523.10" x2="526.20" y1="185.87" y2="185.87" stroke="#262626" stroke-width="0.7"/><text class="c" transform="translate(528.10 188.06) rotate(.05)">0.25</text>
<line x1="523.10" x2="526.20" y1="245.30" y2="245.30" stroke="#262626" stroke-width="0.7"/><text class="c" transform="translate(528.10 247.48) rotate(.05)">0.00</text>
<line x1="523.10" x2="526.20" y1="304.73" y2="304.73" stroke="#262626" stroke-width="0.7"/><text class="c" transform="translate(528.10 306.91) rotate(.05)">−0.25</text>
<line x1="523.10" x2="526.20" y1="364.15" y2="364.15" stroke="#262626" stroke-width="0.7"/><text class="c" transform="translate(528.10 366.33) rotate(.05)">−0.50</text>
<line x1="523.10" x2="526.20" y1="423.57" y2="423.57" stroke="#262626" stroke-width="0.7"/><text class="c" transform="translate(528.10 425.76) rotate(.05)">−0.75</text>
<line x1="523.10" x2="526.20" y1="483.00" y2="483.00" stroke="#262626" stroke-width="0.7"/><text class="c" transform="translate(528.10 485.19) rotate(.05)">−1.00</text>
</g>
</svg>
</body></html>
